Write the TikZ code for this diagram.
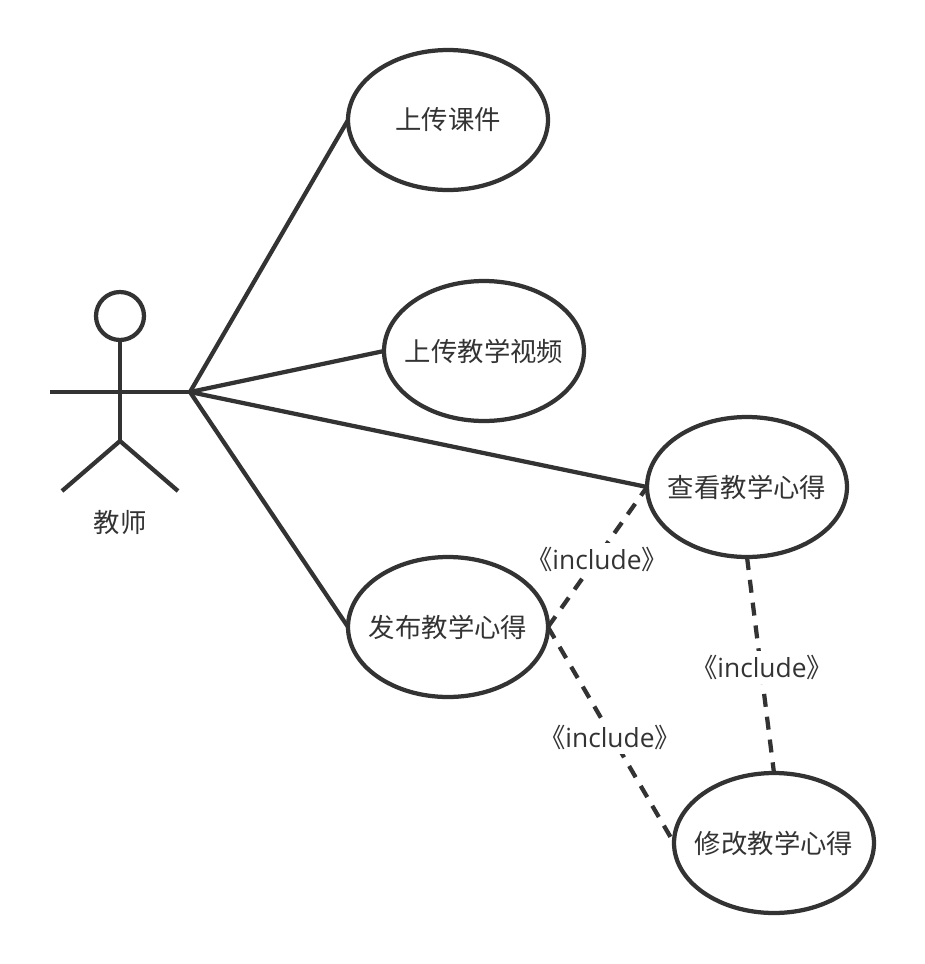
\documentclass[tikz,border=0pt]{standalone}
\usepackage{fontspec}
\setmainfont{Open Sans}
\newfontfamily\cjk{Noto Sans CJK SC}
\usetikzlibrary{shapes.geometric}
\definecolor{inkgray}{HTML}{333333}
\newcommand{\incl}{{\cjk 《}include{\cjk 》}}
\newcommand{\uc}[1]{\makebox[0pt]{#1}}
\tikzset{
	usecase/.style={ellipse, draw=inkgray, line width=0.085cm, minimum width=4cm, minimum height=2.8cm, inner sep=0, outer sep=0, text=inkgray, font=\cjk\fontsize{15}{16}\selectfont},
	assoc/.style={draw=inkgray, line width=0.085cm},
	dep/.style={draw=inkgray, line width=0.085cm, dash pattern=on 0.26cm off 0.2cm},
	deplabel/.style={fill=white, text=inkgray, inner xsep=1pt, inner ysep=0pt, minimum height=0.66cm, font=\fontsize{15}{16}\selectfont},
}
\begin{document}
\begin{tikzpicture}[x=0.02cm, y=-0.02cm]
	\useasboundingbox (0,0) rectangle (924,964);
	\fill[white] (0,0) rectangle (924,964);

	\node[usecase] (upload) at (448,120) {\uc{上传课件}};
	\node[usecase] (video) at (484,351) {\uc{上传教学视频}};
	\node[usecase] (view) at (747,487) {\uc{查看教学心得}};
	\node[usecase] (post) at (448,627) {\uc{发布教学心得}};
	\node[usecase] (edit) at (774,843) {\uc{修改教学心得}};

	% actor
	\node[circle, draw=inkgray, line width=0.085cm, minimum size=0.96cm, inner sep=0, outer sep=0] (head) at (120,316) {};
	\coordinate (crotch) at (120,441);
	\coordinate (lefthand) at (50,392);
	\coordinate (righthand) at (190,392);
	\coordinate (leftfoot) at (62,491);
	\coordinate (rightfoot) at (178,491);
	\draw[assoc] (head.south) -- (crotch);
	\draw[assoc] (lefthand) -- (righthand);
	\draw[assoc] (leftfoot) -- (crotch) -- (rightfoot);
	\node[text=inkgray, font=\cjk\fontsize{15}{16}\selectfont] (teacher) at (120,523) {教师};

	\draw[assoc] (righthand) -- (upload.west);
	\draw[assoc] (righthand) -- (video.west);
	\draw[assoc] (righthand) -- (view.west);
	\draw[assoc] (righthand) -- (post.west);

	\draw[dep] (post.east) -- (view.west);
	\draw[dep] (post.east) -- (edit.west);
	\draw[dep] (view.south) -- (edit.north);

	\node[deplabel] (inclview) at (597,559) {\incl};
	\node[deplabel] (incledit) at (610,737) {\incl};
	\node[deplabel] (inclboth) at (762,667) {\incl};
\end{tikzpicture}
\end{document}
